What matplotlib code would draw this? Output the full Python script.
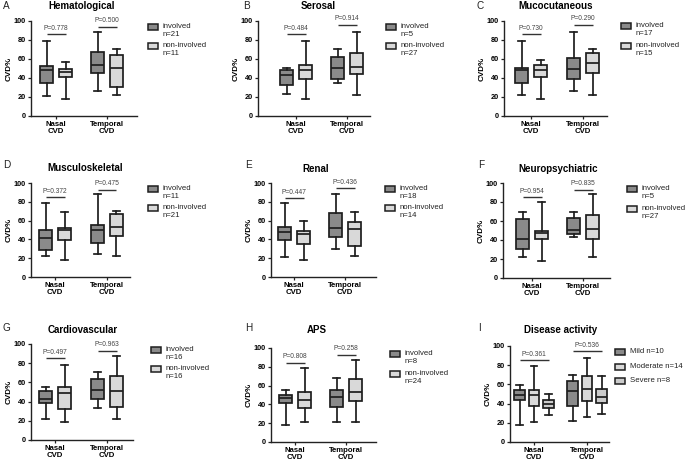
import matplotlib
matplotlib.use('Agg')
import matplotlib.pyplot as plt
from matplotlib.patches import Rectangle

plt.rcParams['font.family'] = ['Liberation Sans', 'DejaVu Sans']

# ---------------- data ----------------
titles = ['Hematological', 'Serosal', 'Mucocutaneous', 'Musculoskeletal', 'Renal',
          'Neuropsychiatric', 'Cardiovascular', 'APS', 'Disease activity']
letters = ['A', 'B', 'C', 'D', 'E', 'F', 'G', 'H', 'I']
group_labels = ['Nasal\nCVD', 'Temporal\nCVD']
y_ticks = [0, 20, 40, 60, 80, 100]

# five-number summaries [low whisker, Q1, median, Q3, high whisker]
# order: nasal involved, nasal non-involved, temporal involved, temporal non-involved
hematological = [[21, 35, 48, 53, 79], [18, 41, 46, 49, 57], [26, 45, 54, 67, 88], [22, 30, 50, 64, 71]]
serosal = [[23, 33, 43, 48, 50], [18, 39, 48, 54, 79], [35, 39, 51, 62, 71], [22, 44, 52, 66, 88]]
mucocutaneous = [[22, 35, 48, 50, 79], [18, 41, 48, 54, 59], [26, 39, 49, 61, 88], [22, 45, 56, 66, 70]]
musculoskeletal = [[22, 29, 42, 49.5, 79], [18, 39.5, 50, 52.5, 69], [25, 36, 50, 55.5, 88], [22, 44, 53.5, 67, 70]]
renal = [[21, 39.5, 48, 53.5, 79], [17.6, 35, 45.4, 49.3, 59.5], [29.6, 43, 52.5, 67.6, 88], [22, 33, 51.4, 58, 69]]
neuropsychiatric = [[22, 30.7, 40.6, 62, 69], [18, 40.6, 47.7, 50, 79.5], [43.5, 46, 51, 63, 69], [22, 40.6, 52, 66, 88]]
cardiovascular = [[21.6, 39, 42.5, 51, 55.7], [18.5, 32.4, 48.8, 55.4, 78.4], [33.8, 42.5, 52.3, 63.4, 70.4], [22.3, 34.5, 51.2, 66.9, 87]]
aps = [[17.6, 41, 46.5, 50, 55.3], [21, 36.6, 44.7, 53.5, 79], [21.8, 37.3, 48, 55, 68.3], [21.8, 44, 52.8, 67, 87.7]]
# order: nasal mild, moderate, severe, temporal mild, moderate, severe
disease_activity = [[18, 44, 49.3, 54.5, 59], [21, 37, 49.3, 54.5, 78.8], [27.8, 35.4, 40, 44, 50.3],
                    [21.5, 38, 52.8, 64, 69.4], [25.7, 42.7, 55.5, 68.4, 87.8], [29.2, 41, 46.9, 55.5, 68.4]]

p_nasal = ['P=0.778', 'P=0.484', 'P=0.730', 'P=0.372', 'P=0.447', 'P=0.954', 'P=0.497', 'P=0.808', 'P=0.361']
p_temporal = ['P=0.500', 'P=0.914', 'P=0.290', 'P=0.475', 'P=0.436', 'P=0.835', 'P=0.963', 'P=0.258', 'P=0.536']
n_involved = ['n=21', 'n=5', 'n=17', 'n=11', 'n=18', 'n=5', 'n=16', 'n=8']
n_non_involved = ['n=11', 'n=27', 'n=15', 'n=21', 'n=14', 'n=27', 'n=16', 'n=24']
activity_labels = ['Mild n=10', 'Moderate n=14', 'Severe n=8']

all_stats = [hematological, serosal, mucocutaneous, musculoskeletal, renal,
             neuropsychiatric, cardiovascular, aps, disease_activity]

# ---------------- layout (pixels) ----------------
W, H = 685, 463
fig = plt.figure(figsize=(W / 100, H / 100), dpi=100)

# left, right, top(=100), bottom(=0), tick1, tick2, box offset, box width
layout = [
    (31, 137, 21, 116, 56, 107, 9.5, 12.5),
    (258, 370, 21, 116, 296, 347, 9.5, 12.5),
    (504, 607, 21, 116, 531, 583, 9.5, 12.5),
    (31, 130, 183, 277, 55, 107, 9.5, 12.5),
    (271, 376, 183, 277, 294, 345, 9.5, 12.5),
    (503, 610, 183, 278, 532, 583, 9.5, 12.5),
    (31, 133, 344, 440, 55, 107, 9.5, 12.5),
    (271, 376, 348, 442, 295, 346, 9.5, 12.5),
    (510, 609, 346, 442, 534, 587, 14.5, 10.5),
]
p_line_y = [(86, 94), (86, 96), (86, 96), (85, 93), (84, 94.6), (85, 93), (85.4, 93), (84.5, 93), (85.4, 94.8)]
title_pos = [(82, 6), (318, 6), (556, 6), (85, 168), (316, 169), (558, 169), (83, 330), (317, 330), (561, 330)]
letter_pos = [(3, 6), (243, 6), (477, 6), (3, 165), (245, 165), (478, 165), (3, 328), (245, 328), (478, 328)]
legend_pos = [(148, 27, 46), (386, 27, 46), (621, 26, 46), (148, 189, 208), (385, 189, 208),
              (627, 189, 209), (151, 350, 369), (390, 354, 374), (615, 352, 367, 381)]

DARK = '#8a8a8a'
LIGHT = '#d9d9d9'
SEVERE = '#cbcbcb'
EDGE = '#1e1e1e'

overlay = fig.add_axes([0, 0, 1, 1])
overlay.set_xlim(0, W)
overlay.set_ylim(H, 0)
overlay.axis('off')

for i in range(9):
    l, r, t, b, t1, t2, off, bw = layout[i]
    ax = fig.add_axes([l / W, 1 - b / H, (r - l) / W, (b - t) / H])
    ppu = t2 - t1
    ax.set_xlim(1 - (t1 - l) / ppu, 2 + (r - t2) / ppu)
    ax.set_ylim(0, 100)
    o = off / ppu
    w = bw / ppu
    if i < 8:
        positions = [1 - o, 1 + o, 2 - o, 2 + o]
        colors = [DARK, LIGHT, DARK, LIGHT]
    else:
        positions = [1 - o, 1, 1 + o, 2 - o, 2, 2 + o]
        colors = [DARK, LIGHT, SEVERE, DARK, LIGHT, SEVERE]
    stats = []
    for s in all_stats[i]:
        stats.append(dict(whislo=s[0], q1=s[1], med=s[2], q3=s[3], whishi=s[4], fliers=[]))
    res = ax.bxp(stats, positions=positions, widths=w, patch_artist=True, showfliers=False,
                 capwidths=w * 0.6,
                 boxprops=dict(edgecolor=EDGE, linewidth=1.25),
                 medianprops=dict(color=EDGE, linewidth=1.25),
                 whiskerprops=dict(color=EDGE, linewidth=1.25),
                 capprops=dict(color=EDGE, linewidth=1.25))
    for patch, c in zip(res['boxes'], colors):
        patch.set_facecolor(c)

    # p-value bars
    n_per = 2 if i < 8 else 3
    for g, (pt, py) in enumerate(zip([p_nasal[i], p_temporal[i]], p_line_y[i])):
        x0 = positions[g * n_per]
        x1 = positions[g * n_per + n_per - 1]
        ax.plot([x0, x1], [py, py], color='#333333', lw=1.0, clip_on=False, solid_capstyle='butt')
        ax.text((x0 + x1) / 2, py + 2.5, pt, ha='center', va='bottom', fontsize=4.8,
                color='#444444', clip_on=False)

    ax.spines['top'].set_visible(False)
    ax.spines['right'].set_visible(False)
    for sp in ['left', 'bottom']:
        ax.spines[sp].set_linewidth(1.0)
        ax.spines[sp].set_color('#222222')
    ax.set_yticks(y_ticks)
    ax.set_yticklabels([str(v) for v in y_ticks], fontsize=5.3, fontweight='bold')
    ax.set_xticks([1, 2])
    ax.set_xticklabels(group_labels, fontsize=5.6, fontweight='bold', linespacing=1.05)
    ax.tick_params(axis='both', length=2.2, width=0.9, pad=1.5, color='#222222')
    ax.set_ylabel('CVD%', fontsize=5.8, fontweight='bold', labelpad=0.8)

    tx, ty = title_pos[i]
    overlay.text(tx, ty, titles[i], ha='center', va='center', fontsize=7, fontweight='bold')
    lx, ly = letter_pos[i]
    overlay.text(lx, ly, letters[i], ha='left', va='center', fontsize=7.2, color='#222222')

    # legend
    lp = legend_pos[i]
    bx = lp[0]
    if i < 8:
        items = [(lp[1], DARK, 'involved\n' + n_involved[i]),
                 (lp[2], LIGHT, 'non-involved\n' + n_non_involved[i])]
    else:
        items = [(lp[1], DARK, activity_labels[0]), (lp[2], LIGHT, activity_labels[1]),
                 (lp[3], SEVERE, activity_labels[2])]
    for (iy, c, lab) in items:
        overlay.add_patch(Rectangle((bx, iy - 3), 10, 6, facecolor=c, edgecolor=EDGE, lw=1.1))
        overlay.text(bx + 15, iy - 4.2, lab, ha='left', va='top', fontsize=5.6,
                     linespacing=1.25, color='#222222')

fig.savefig('out.png', dpi=100)
